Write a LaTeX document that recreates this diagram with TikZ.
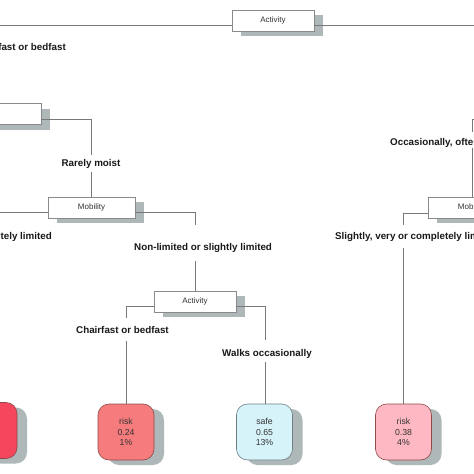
\documentclass[tikz,border=0pt]{standalone}
\usepackage{fontspec}
\setmainfont{Liberation Sans}
\usetikzlibrary{shadows}
\definecolor{ln}{HTML}{787878}
\definecolor{boxgray}{HTML}{8A8A8A}
\definecolor{shd}{HTML}{A7B1B1}
\definecolor{txtgray}{HTML}{333333}
\definecolor{leafred}{HTML}{F4465C}
\definecolor{risklo}{HTML}{F57B7D}
\definecolor{safec}{HTML}{D6F3FA}
\definecolor{riskpk}{HTML}{FDB8C3}
\definecolor{leafline}{HTML}{8B4A4A}
\definecolor{safeline}{HTML}{6D7F85}
\begin{document}
\begin{tikzpicture}[x=1pt,y=-1pt,
  splitbox/.style={draw=boxgray, fill=white, line width=0.6pt, minimum width=82pt, minimum height=21pt, inner sep=0pt,
    font=\fontsize{8}{9}\selectfont, text=txtgray,
    drop shadow={shadow xshift=9pt, shadow yshift=-5pt, fill=shd, opacity=0.9}},
  widebox/.style={splitbox, minimum width=87pt},
  leafbox/.style={draw=leafline, line width=0.6pt, rounded corners=11pt, minimum width=56pt, minimum height=56pt, inner sep=0pt,
    align=center, font=\fontsize{8.7}{10.5}\selectfont, text=txtgray,
    drop shadow={shadow xshift=10pt, shadow yshift=-5pt, fill=shd, opacity=0.9}},
  lbl/.style={font=\fontsize{9.8}{11}\selectfont\bfseries, text=black!90, inner sep=0pt},
  conn/.style={draw=ln, line width=0.7pt}]
\useasboundingbox (0,0) rectangle (474,474);
\clip (0,0) rectangle (474,474);
\fill[white] (0,0) rectangle (474,474);

% split boxes
\node[splitbox] (act1) at (273,20.5) {Activity};
\node[widebox] (moist1) at (-2.5,114) {};
\node[widebox] (mob1) at (91.5,207.5) {Mobility};
\node[widebox] (mob2) at (471.5,207.5) {Mobility};
\node[splitbox] (act2) at (195,301.5) {Activity};

% leaves
\node[leafbox, fill=leafred] (leaf0) at (-11,430.5) {};
\node[leafbox, fill=risklo] (leaf1) at (126,432) {risk\\0.24\\1\%};
\node[leafbox, fill=safec, draw=safeline] (leaf2) at (264.5,432) {safe\\0.65\\13\%};
\node[leafbox, fill=riskpk] (leaf3) at (403.5,432) {risk\\0.38\\4\%};

% labels
\node[lbl, anchor=east] (cb1) at (66,47) {Chairfast or bedfast};
\node[lbl] (rm) at (91,164) {Rarely moist};
\node[lbl, anchor=west] (occ) at (390,143) {Occasionally, often};
\node[lbl, anchor=east] (svl1) at (52,237) {Slightly, very or completely limited};
\node[lbl, anchor=west] (nl) at (134,248) {Non-limited or slightly limited};
\node[lbl, anchor=west] (svl2) at (335,237) {Slightly, very or completely limited};
\node[lbl, anchor=west] (cb2) at (76,330) {Chairfast or bedfast};
\node[lbl, anchor=west] (wo) at (222,354) {Walks occasionally};

% exit points
\coordinate (a1w) at ([yshift=-4.5pt]act1.west);
\coordinate (a1e) at ([yshift=-4.5pt]act1.east);
\coordinate (m0e) at ([yshift=-5pt]moist1.east);
\coordinate (m1w) at ([yshift=-5pt]mob1.west);
\coordinate (m1e) at ([yshift=-5pt]mob1.east);
\coordinate (m2w) at ([yshift=-5.5pt]mob2.west);
\coordinate (a2w) at ([yshift=-4.5pt]act2.west);
\coordinate (a2e) at ([yshift=-4.5pt]act2.east);

% free-end coordinates
\coordinate (topL) at (-10,25);
\coordinate (topR) at (484,25);
\coordinate (rtop) at (484,119);
\coordinate (m1L) at (-10,212.5);
\coordinate (b1a) at (91.5,155); \coordinate (b1b) at (91.5,172);
\coordinate (b2a) at (472,132); \coordinate (b2b) at (472,148);
\coordinate (b3a) at (195,225); \coordinate (b3b) at (195,261);
\coordinate (b4a) at (403,225); \coordinate (b4b) at (403,248);
\coordinate (b5a) at (126,318); \coordinate (b5b) at (126,341);
\coordinate (b6a) at (265,340); \coordinate (b6b) at (265,362);

% connectors
\draw[conn] (a1w) -- (topL |- a1w);
\draw[conn] (a1e) -- (topR |- a1e);
\draw[conn] (m0e) -| (b1a);
\draw[conn] (b1b) -- (b1b |- mob1.north);
\draw[conn] (rtop) -| (b2a);
\draw[conn] (b2b) -- (b2b |- mob2.north);
\draw[conn] (m1w) -- (m1L |- m1w);
\draw[conn] (m1e) -| (b3a);
\draw[conn] (b3b) -- (act2.north);
\draw[conn] (m2w) -| (b4a);
\draw[conn] (b4b) -- (b4b |- leaf3.north);
\draw[conn] (a2w) -| (b5a);
\draw[conn] (b5b) -- (leaf1.north);
\draw[conn] (a2e) -| (b6a);
\draw[conn] (b6b) -- (b6b |- leaf2.north);
\end{tikzpicture}
\end{document}
